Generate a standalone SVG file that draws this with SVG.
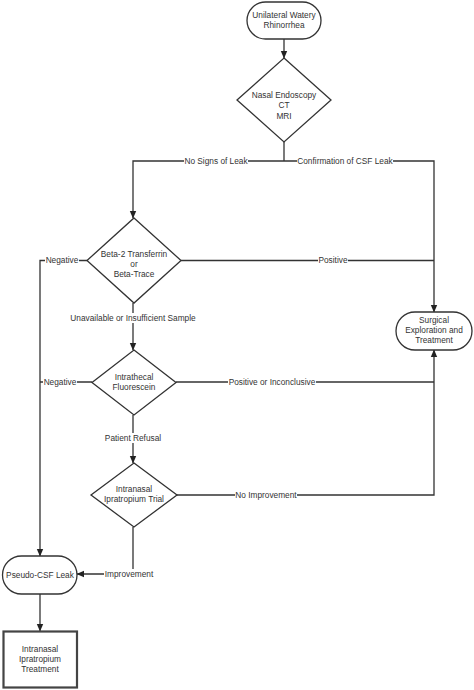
<svg xmlns="http://www.w3.org/2000/svg" width="474" height="690" viewBox="0 0 474 690">
<defs>
<marker id="arr" markerWidth="8" markerHeight="8" refX="7" refY="4" orient="auto" markerUnits="userSpaceOnUse">
<path d="M0,0.8 L7.5,4 L0,7.2 Z" fill="#222"/>
</marker>
</defs>
<style>
.n{fill:#fff;stroke:#333;stroke-width:1.3}
.t{font-family:"Liberation Sans",Arial,sans-serif;font-size:8.3px;fill:#333;text-anchor:middle}
.c{fill:none;stroke:#333;stroke-width:1.3}
.a{marker-end:url(#arr)}
.b{fill:#fff}
</style>
<rect width="474" height="690" fill="#fff"/>
<g id="connectors">
<path class="c a" d="M284,39 V58"/>
<path class="c" d="M284,142 V161"/>
<path class="c a" d="M284,161 H133 V218"/>
<path class="c a" d="M284,161 H434 V312"/>
<path class="c" d="M181,260.5 H434"/>
<path class="c a" d="M87,260.5 H40 V556"/>
<path class="c a" d="M133,303 V350"/>
<path class="c" d="M92,382 H40"/>
<path class="c" d="M176,382 H434"/>
<path class="c a" d="M133,415 V463"/>
<path class="c a" d="M177,495 H434 V350"/>
<path class="c a" d="M133,527 V574 H77"/>
<path class="c a" d="M40,594 V631"/>
<rect class="b" x="184" y="156" width="64" height="10"/>
<text class="t" x="216" y="164">No Signs of Leak</text>
<rect class="b" x="297" y="156" width="96" height="10"/>
<text class="t" x="345" y="164">Confirmation of CSF Leak</text>
<rect class="b" x="318" y="255.5" width="30" height="10"/>
<text class="t" x="333" y="263">Positive</text>
<rect class="b" x="45" y="255.5" width="34" height="10"/>
<text class="t" x="62" y="263">Negative</text>
<rect class="b" x="70" y="313" width="126" height="10"/>
<text class="t" x="133" y="321">Unavailable or Insufficient Sample</text>
<rect class="b" x="43" y="377" width="34" height="10"/>
<text class="t" x="60" y="385">Negative</text>
<rect class="b" x="228" y="377" width="88" height="10"/>
<text class="t" x="272" y="385">Positive or Inconclusive</text>
<rect class="b" x="104" y="433" width="58" height="10"/>
<text class="t" x="133" y="441">Patient Refusal</text>
<rect class="b" x="235" y="490" width="62" height="10"/>
<text class="t" x="266" y="498">No Improvement</text>
<rect class="b" x="104" y="569" width="50" height="10"/>
<text class="t" x="129" y="577">Improvement</text>
</g>
<g id="start">
<rect class="n" x="247" y="2" width="74" height="37" rx="18.5"/>
<text class="t" x="284" y="18">Unilateral Watery</text>
<text class="t" x="284" y="28">Rhinorrhea</text>
</g>
<g id="imaging">
<path class="n" d="M284,58 L331,100 L284,142 L237,100 Z"/>
<text class="t" x="284" y="98">Nasal Endoscopy</text>
<text class="t" x="284" y="108">CT</text>
<text class="t" x="284" y="119">MRI</text>
</g>
<g id="beta">
<path class="n" d="M134,218 L181,260.5 L134,303 L87,260.5 Z"/>
<text class="t" x="134" y="257">Beta-2 Transferrin</text>
<text class="t" x="134" y="267">or</text>
<text class="t" x="134" y="277">Beta-Trace</text>
</g>
<g id="surgical">
<rect class="n" x="396" y="312" width="76" height="38" rx="19"/>
<text class="t" x="434" y="323">Surgical</text>
<text class="t" x="434" y="333">Exploration and</text>
<text class="t" x="434" y="343">Treatment</text>
</g>
<g id="intrathecal">
<path class="n" d="M134,350 L176,382.5 L134,415 L92,382.5 Z"/>
<text class="t" x="134" y="380">Intrathecal</text>
<text class="t" x="134" y="390">Fluorescein</text>
</g>
<g id="trial">
<path class="n" d="M134,463 L177,495 L134,527 L91,495 Z"/>
<text class="t" x="134" y="492">Intranasal</text>
<text class="t" x="134" y="502">Ipratropium Trial</text>
</g>
<g id="pseudo">
<rect class="n" x="2.5" y="556" width="74.5" height="38" rx="19"/>
<text class="t" x="40" y="577.5">Pseudo-CSF Leak</text>
</g>
<g id="treatment">
<rect x="3.5" y="631.5" width="73.5" height="56" fill="#fff" stroke="#444" stroke-width="2.2"/>
<text class="t" x="40" y="652">Intranasal</text>
<text class="t" x="40" y="662">Ipratropium</text>
<text class="t" x="40" y="672">Treatment</text>
</g>
</svg>
